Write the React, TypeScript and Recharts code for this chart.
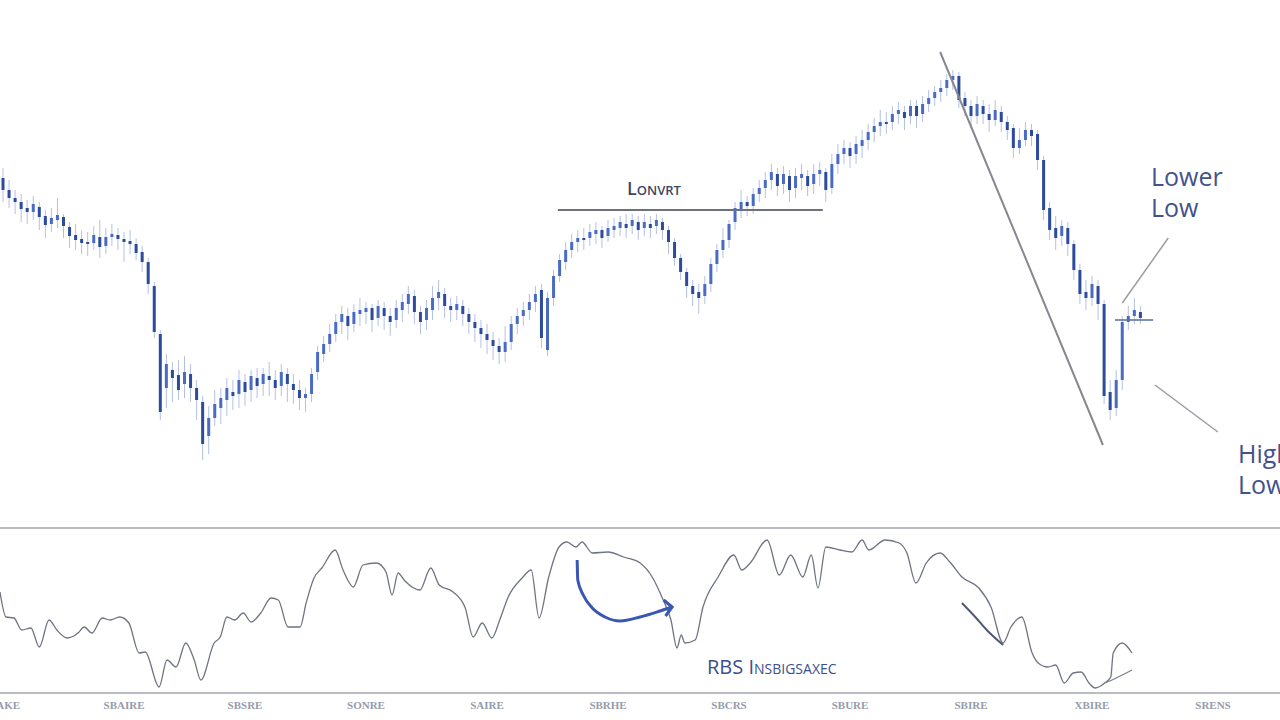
import React from 'react';
import {
  ComposedChart,
  LineChart,
  Line,
  Bar,
  XAxis,
  YAxis,
  ReferenceLine,
} from 'recharts';

// candles as [open, close, high, low], one per session
const candles: number[][] = [
  [342, 330, 352, 318], [330, 322, 340, 312], [322, 318, 330, 306], [318, 311, 326, 298],
  [312, 308, 320, 296], [308, 316, 324, 300], [313, 303, 318, 290], [304, 295, 310, 282],
  [296, 302, 312, 288], [300, 305, 322, 292], [303, 294, 306, 282], [293, 284, 298, 272],
  [285, 280, 296, 270], [281, 277, 290, 266], [278, 276, 288, 264], [277, 285, 294, 270],
  [283, 273, 300, 262], [274, 283, 292, 266], [283, 286, 296, 274], [285, 281, 292, 270],
  [281, 278, 288, 258], [279, 276, 290, 266], [276, 267, 282, 260], [268, 258, 274, 248],
  [258, 236, 262, 226], [234, 188, 238, 182], [186, 108, 190, 100], [132, 156, 166, 112],
  [150, 142, 158, 118], [145, 130, 160, 120], [136, 148, 164, 122], [146, 132, 156, 118],
  [132, 120, 140, 100], [118, 76, 124, 60], [84, 102, 114, 66], [102, 116, 130, 94],
  [112, 122, 132, 96], [120, 132, 142, 104], [128, 124, 140, 110], [126, 140, 150, 112],
  [138, 128, 146, 114], [130, 144, 150, 118], [142, 134, 152, 122], [136, 146, 152, 124],
  [144, 140, 158, 124], [140, 132, 150, 120], [134, 148, 156, 124], [146, 136, 152, 118],
  [136, 130, 146, 116], [130, 122, 140, 110], [122, 126, 132, 108], [126, 146, 152, 118],
  [148, 168, 174, 140], [166, 176, 184, 158], [176, 186, 196, 168], [186, 198, 206, 178],
  [198, 206, 214, 186], [204, 194, 212, 180], [196, 208, 216, 188], [206, 210, 222, 194],
  [208, 212, 218, 196], [212, 200, 216, 188], [202, 214, 220, 194], [212, 204, 218, 190],
  [204, 198, 212, 184], [200, 212, 220, 192], [210, 218, 226, 198], [216, 226, 234, 206],
  [224, 208, 230, 196], [208, 198, 214, 186], [200, 212, 220, 190], [210, 222, 234, 200],
  [222, 228, 240, 210], [226, 214, 232, 202], [214, 210, 222, 198], [210, 216, 224, 200],
  [214, 206, 220, 194], [206, 198, 212, 186], [198, 192, 206, 178], [192, 186, 200, 172],
  [186, 180, 196, 166], [180, 174, 188, 160], [174, 168, 182, 156], [168, 178, 194, 158],
  [178, 196, 204, 170], [196, 204, 212, 186], [204, 210, 218, 194], [210, 218, 226, 200],
  [218, 226, 234, 208], [230, 182, 236, 172], [170, 222, 228, 164], [222, 244, 250, 214],
  [244, 260, 266, 238], [258, 270, 278, 250], [270, 278, 286, 262], [278, 282, 290, 268],
  [282, 280, 292, 270], [282, 288, 296, 274], [286, 290, 298, 276], [290, 282, 294, 272],
  [284, 292, 300, 278], [290, 294, 302, 282], [292, 298, 304, 284], [296, 292, 306, 282],
  [294, 300, 306, 286], [298, 290, 304, 280], [292, 298, 306, 284], [296, 292, 304, 282],
  [294, 300, 306, 286], [298, 290, 302, 280], [290, 278, 294, 266], [278, 262, 282, 254],
  [262, 248, 266, 240], [248, 234, 252, 222], [234, 226, 240, 214], [228, 222, 236, 206],
  [224, 236, 244, 216], [236, 256, 262, 228], [256, 270, 276, 248], [270, 280, 292, 262],
  [280, 296, 300, 272], [298, 312, 318, 290], [310, 318, 330, 302], [318, 314, 324, 304],
  [314, 326, 332, 306], [326, 332, 340, 318], [332, 340, 348, 322], [340, 348, 356, 330],
  [346, 334, 352, 324], [336, 346, 354, 326], [344, 330, 350, 318], [332, 344, 352, 322],
  [342, 346, 356, 330], [344, 334, 350, 324], [336, 346, 356, 326], [346, 350, 358, 334],
  [348, 330, 352, 318], [332, 356, 366, 326], [356, 366, 376, 346], [366, 372, 380, 356],
  [372, 364, 378, 352], [366, 376, 384, 356], [374, 380, 390, 362], [380, 388, 396, 370],
  [388, 394, 402, 378], [394, 398, 410, 384], [398, 396, 408, 386], [398, 406, 414, 390],
  [406, 410, 418, 396], [408, 402, 414, 390], [404, 414, 420, 396], [414, 404, 420, 392],
  [406, 416, 424, 398], [416, 422, 430, 408], [422, 428, 434, 414], [428, 432, 440, 418],
  [432, 440, 446, 424], [440, 444, 450, 430], [444, 420, 448, 412], [422, 414, 428, 404],
  [414, 404, 420, 392], [404, 416, 424, 396], [414, 406, 420, 396], [406, 400, 416, 388],
  [400, 410, 420, 394], [408, 398, 414, 388], [398, 390, 404, 380], [392, 372, 396, 362],
  [372, 380, 392, 366], [380, 390, 398, 374], [390, 384, 396, 374], [386, 360, 390, 350],
  [360, 310, 364, 300], [312, 290, 318, 280], [292, 282, 304, 270], [284, 294, 300, 274],
  [292, 276, 298, 264], [276, 250, 280, 240], [250, 226, 256, 216], [228, 222, 240, 210],
  [222, 236, 244, 214], [234, 216, 240, 200], [216, 124, 220, 116], [128, 110, 140, 100],
  [112, 140, 150, 104], [140, 198, 204, 130], [198, 204, 214, 190], [204, 210, 222, 196],
  [208, 202, 214, 196],
];

// RSI pane: [session, value]
const rsiMain: number[][] = [
  [-0.5, 101], [0.5, 76], [1.8, 75], [3.1, 63], [4.6, 65], [6.0, 46], [7.6, 73], [8.9, 63],
  [10.6, 55], [12.4, 60], [13.4, 66], [14.7, 60], [16.4, 75], [17.7, 73], [19.3, 76], [20.8, 70],
  [22.5, 40], [23.5, 41], [25.8, 6], [27.1, 33], [28.6, 26], [30.2, 50], [31.6, 33], [32.7, 13],
  [34.9, 50], [35.9, 56], [37.0, 76], [38.3, 73], [39.7, 80], [41.0, 71], [42.6, 80], [44.3, 95],
  [45.5, 93], [47.1, 66], [49.1, 66], [50.1, 90], [51.4, 115], [52.7, 125], [54.9, 143], [56.2, 123],
  [57.9, 106], [59.5, 128], [61.7, 130], [63.3, 121], [64.3, 98], [65.3, 120], [66.3, 113], [67.6, 106],
  [68.9, 103], [70.7, 125], [72.1, 108], [74.4, 101], [76.4, 85], [77.7, 56], [79.2, 70], [80.8, 55],
  [82.1, 73], [83.5, 96], [85.8, 115], [87.3, 123], [88.6, 75], [90.2, 116], [91.9, 146], [93.2, 151],
  [94.7, 146], [95.7, 151], [97.4, 140], [100.0, 141], [102.6, 136], [105.3, 130], [107.3, 116], [108.9, 96],
  [110.4, 73], [111.4, 45], [112.1, 58], [112.7, 50], [114.4, 53], [115.7, 86], [118.2, 116], [120.8, 138],
  [122.1, 123], [123.5, 130], [126.3, 153], [128.3, 118], [130.2, 138], [132.2, 116], [133.6, 138], [134.7, 105],
  [136.0, 146], [138.3, 143], [140.3, 141], [142.0, 153], [143.1, 143], [145.8, 153], [148.1, 150], [149.4, 140],
  [150.9, 110], [152.6, 130], [154.9, 140], [156.5, 131], [158.5, 116], [161.3, 105], [163.3, 86], [165.3, 50],
  [166.6, 66], [168.4, 76], [170.1, 40], [171.1, 30], [172.7, 26], [174.0, 28], [175.4, 10], [176.9, 20],
  [178.2, 21], [179.5, 10], [180.5, 5], [182.1, 10], [183.1, 16], [183.5, 40], [185.0, 50], [186.6, 40],
];
const rsiTail: number[][] = [[182.1, 10], [184.0, 15], [186.6, 23]];
const rsiBow: number[][] = [[158.5, 90], [160.7, 76], [162.6, 63], [165.3, 48]];
const arcPath: number[][] = [
  [94.9, 133], [95.0, 113], [95.9, 98], [97.4, 85], [99.5, 76], [102.0, 72], [105.3, 76], [108.6, 82], [110.6, 86],
];
const arcHead: number[][] = [[109.2, 93], [110.6, 86], [109.5, 77]];

const tickIdx = [0, 20, 40, 60, 80, 100, 120, 140, 160, 180, 200];
const tickLabels = ['SIAKE', 'SBAIRE', 'SBSRE', 'SONRE', 'SAIRE', 'SBRHE', 'SBCRS', 'SBURE', 'SBIRE', 'XBIRE', 'SRENS'];

const priceData = candles.map(([o, c, h, l], i) => ({ i, o, c, h, l }));
const toPts = (arr: number[][]) => arr.map(([t, v]) => ({ t, v }));

const X_DOMAIN: [number, number] = [-0.5, 211.07];

const Candle = (props: any) => {
  const { x, y, width, height, payload } = props;
  if (!payload) return null;
  const { o, c, h, l } = payload;
  const cx = x + width / 2;
  const top = Math.min(y, y + height);
  const span = Math.abs(height);
  const k = span / (h - l || 1);
  const yo = top + (h - o) * k;
  const yc = top + (h - c) * k;
  const bTop = Math.min(yo, yc);
  const bH = Math.max(2, Math.abs(yo - yc));
  const up = c >= o;
  return (
    <g>
      <line x1={cx} x2={cx} y1={top} y2={top + span} stroke="#b3c1e0" strokeWidth={1} />
      <rect x={cx - 1.5} y={bTop} width={3} height={bH} fill={up ? '#4a6bc4' : '#2c4b9e'} />
    </g>
  );
};

export default function App() {
  return (
    <div style={{ position: 'absolute', left: 0, top: 0, width: 1280, height: 720, background: '#fff', overflow: 'hidden' }}>
      <div style={{ position: 'absolute', left: 0, top: 0 }}>
        <ComposedChart width={1280} height={520} data={priceData} margin={{ top: 0, right: 0, bottom: 0, left: 0 }}>
          <XAxis dataKey="i" type="number" domain={X_DOMAIN} hide allowDataOverflow />
          <YAxis domain={[0, 520]} hide allowDataOverflow />
          <Bar dataKey={(d: any) => [d.l, d.h]} barSize={4} shape={Candle} isAnimationActive={false} />
          <ReferenceLine segment={[{ x: 91.7, y: 310 }, { x: 135.5, y: 310 }]} stroke="#6e717b" strokeWidth={2} />
          <ReferenceLine segment={[{ x: 154.9, y: 468 }, { x: 181.8, y: 75 }]} stroke="#85888f" strokeWidth={2} />
          <ReferenceLine segment={[{ x: 192.6, y: 282 }, { x: 185.0, y: 217 }]} stroke="#9a9da5" strokeWidth={1.5} />
          <ReferenceLine segment={[{ x: 183.8, y: 200 }, { x: 190.1, y: 200 }]} stroke="#5a6c9e" strokeWidth={1.5} />
          <ReferenceLine segment={[{ x: 200.8, y: 88 }, { x: 190.4, y: 135 }]} stroke="#9a9da5" strokeWidth={1.5} />
        </ComposedChart>
      </div>
      <div style={{ position: 'absolute', left: 0, top: 520 }}>
        <LineChart width={1280} height={200} margin={{ top: 8, right: 0, bottom: 0, left: 0 }}>
          <XAxis
            dataKey="t"
            type="number"
            domain={X_DOMAIN}
            ticks={tickIdx}
            interval={0}
            allowDataOverflow
            height={27}
            tickLine={false}
            tickMargin={2}
            tickFormatter={(v: number) => tickLabels[Math.round(v / 20)]}
            tick={{ fontSize: 11, fill: '#959cab', fontFamily: 'Liberation Serif', fontWeight: 'bold' }}
            axisLine={{ stroke: '#a3a6ad', strokeWidth: 1.5 }}
          />
          <YAxis domain={[0, 165]} hide allowDataOverflow />
          <ReferenceLine y={165} stroke="#a3a6ad" strokeWidth={1.5} />
          <Line data={toPts(rsiMain)} dataKey="v" type="monotone" stroke="#6f7482" strokeWidth={1.3} dot={false} isAnimationActive={false} />
          <Line data={toPts(rsiTail)} dataKey="v" type="monotone" stroke="#7a7f8c" strokeWidth={1.2} dot={false} isAnimationActive={false} />
          <Line data={toPts(rsiBow)} dataKey="v" type="monotone" stroke="#4f5877" strokeWidth={2} dot={false} isAnimationActive={false} />
          <Line data={toPts(arcPath)} dataKey="v" type="monotone" stroke="#3a58b3" strokeWidth={3} dot={false} isAnimationActive={false} />
          <Line data={toPts(arcHead)} dataKey="v" type="linear" stroke="#3a58b3" strokeWidth={3} dot={false} isAnimationActive={false} />
        </LineChart>
      </div>
      <svg width={1280} height={720} style={{ position: 'absolute', left: 0, top: 0, pointerEvents: 'none' }}>
        <g fontFamily="Open Sans" fill="#44528c">
          <text x={654} y={195} textAnchor="middle" fontSize={18} fontWeight={600} fill="#3f4663" style={{ fontVariant: 'small-caps' }}>
            Lonvrt
          </text>
          <text x={1151} y={186} fontSize={25}>Lower</text>
          <text x={1151} y={217} fontSize={25}>Low</text>
          <text x={1238} y={463} fontSize={25}>High</text>
          <text x={1238} y={494} fontSize={25}>Low</text>
          <text x={707} y={674} fontSize={20} fill="#3d4e8c" style={{ fontVariant: 'small-caps' }}>
            RBS Insbigsaxec
          </text>
        </g>
      </svg>
    </div>
  );
}
